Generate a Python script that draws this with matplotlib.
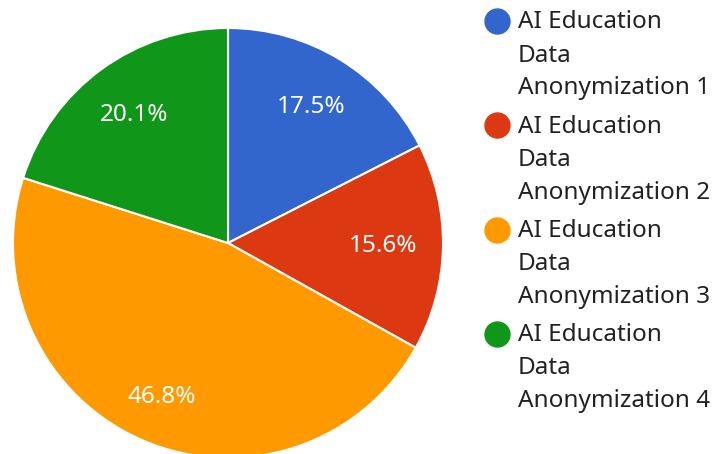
import matplotlib
matplotlib.use("Agg")
import numpy as np
import matplotlib.pyplot as plt

legend_lines = [["AI Education", "Data", "Anonymization %d" % (i + 1)] for i in range(4)]
values = [17.5, 15.6, 46.8, 20.1]
colors = ["#3366cc", "#dc3912", "#ff9900", "#109618"]
label_dist = [0.74, 0.72, 0.78, 0.74]

plt.rcParams['font.family'] = ['Noto Sans', 'DejaVu Sans']

W, H = 713, 454
fig = plt.figure(figsize=(W / 100, H / 100), dpi=100)
ax = fig.add_axes([0, 0, 1, 1])
ax.set_xlim(0, W)
ax.set_ylim(H, 0)
ax.axis("off")

# pie drawn in its own axes so the direction stays clockwise from top
cx, cy, r = 228, 243, 215
pax = fig.add_axes([(cx - r) / W, 1 - (cy + r) / H, 2 * r / W, 2 * r / H])
wedges, texts = pax.pie(values, colors=colors, startangle=90, counterclock=False,
                        wedgeprops=dict(edgecolor="white", linewidth=1.5))
for w, d, v in zip(wedges, label_dist, values):
    ang = np.deg2rad((w.theta1 + w.theta2) / 2)
    pax.text(d * np.cos(ang), d * np.sin(ang), "%.1f%%" % v, color="white",
             fontsize=17.5, ha="center", va="center")
pax.set_xlim(-1, 1)
pax.set_ylim(-1, 1)
pax.set_aspect("auto")
pax.axis("off")

# legend
for i, lines in enumerate(legend_lines):
    y0 = 21 + i * 104.3
    ax.plot(497, y0, "o", color=colors[i], markersize=18, clip_on=False)
    for j, line in enumerate(lines):
        ax.text(518, y0 + 1.5 + j * 33, line, fontsize=17.5, color="#222222", va="center", ha="left")

fig.savefig("out.png", dpi=100)
